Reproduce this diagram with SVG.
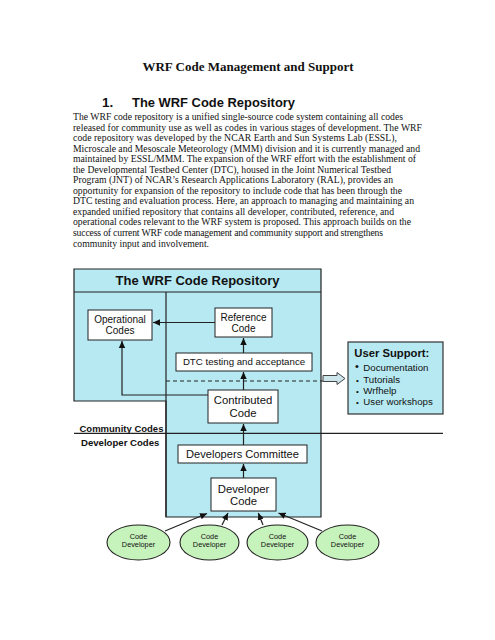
<svg xmlns="http://www.w3.org/2000/svg" width="495" height="640" viewBox="0 0 495 640">
<style>
.ser{font-family:"Liberation Serif","Times New Roman",serif;fill:#111}
.p{font-size:9.7px}
.san{font-family:"Liberation Sans",Arial,sans-serif;fill:#111}
.box{fill:#fff;stroke:#222;stroke-width:1}
.ln{fill:none;stroke:#222;stroke-width:1.2}
.ell{fill:#c6f2bc;stroke:#222;stroke-width:1.1}
</style>
<defs>
<marker id="ah" markerWidth="8" markerHeight="8" refX="7" refY="4" orient="auto" markerUnits="userSpaceOnUse">
<path d="M0,0.8 L7,4 L0,7.2 Z" fill="#111"/>
</marker>
</defs>
<rect width="495" height="640" fill="#fff"/>
<g id="document-text">
<text class="ser" x="248" y="70.5" font-size="13" font-weight="bold" text-anchor="middle">WRF Code Management and Support</text>
<text class="san" x="102" y="107" font-size="13.5" font-weight="bold">1.</text>
<text class="san" x="132" y="107" font-size="13.5" font-weight="bold" textLength="163" lengthAdjust="spacingAndGlyphs">The WRF Code Repository</text>
<g class="ser p">
<text x="73" y="120" textLength="330">The WRF code repository is a unified single-source code system containing all codes</text>
<text x="73" y="130.5" textLength="349">released for community use as well as codes in various stages of development. The WRF</text>
<text x="73" y="141" textLength="324">code repository was developed by the NCAR Earth and Sun Systems Lab (ESSL),</text>
<text x="73" y="151.6" textLength="347">Microscale and Mesoscale Meteorology (MMM) division and it is currently managed and</text>
<text x="73" y="162.2" textLength="343">maintained by ESSL/MMM. The expansion of the WRF effort with the establishment of</text>
<text x="73" y="172.7" textLength="318">the Developmental Testbed Center (DTC), housed in the Joint Numerical Testbed</text>
<text x="73" y="183.2" textLength="320">Program (JNT) of NCAR’s Research Applications Laboratory (RAL), provides an</text>
<text x="73" y="193.8" textLength="329">opportunity for expansion of the repository to include code that has been through the</text>
<text x="73" y="204.3" textLength="341">DTC testing and evaluation process. Here, an approach to managing and maintaining an</text>
<text x="73" y="214.8" textLength="321">expanded unified repository that contains all developer, contributed, reference, and</text>
<text x="73" y="225.4" textLength="338">operational codes relevant to the WRF system is proposed. This approach builds on the</text>
<text x="73" y="236" textLength="310">success of current WRF code management and community support and strengthens</text>
<text x="73" y="246.5" textLength="136">community input and involvement.</text>
</g>
</g>
<g id="repository">
<path d="M74,269 H321 V517 H166 V401 H74 Z" fill="#b7e9f2" stroke="#222" stroke-width="1.2"/>
<line x1="74" y1="292" x2="321" y2="292" class="ln"/>
<line x1="166" y1="292" x2="166" y2="517" class="ln"/>
<text class="san" x="197.5" y="285" font-size="13" font-weight="bold" text-anchor="middle">The WRF Code Repository</text>
</g>
<g id="operational-codes">
<rect class="box" x="88" y="310" width="64" height="30"/>
<text class="san" x="120" y="322.5" font-size="10" text-anchor="middle">Operational</text>
<text class="san" x="120" y="334" font-size="10" text-anchor="middle">Codes</text>
</g>
<g id="reference-code">
<rect class="box" x="215" y="308" width="57" height="29"/>
<text class="san" x="243.5" y="320.5" font-size="10" text-anchor="middle">Reference</text>
<text class="san" x="243.5" y="331.5" font-size="10" text-anchor="middle">Code</text>
</g>
<g id="dtc-testing">
<rect class="box" x="176" y="353" width="136" height="18"/>
<text class="san" x="244" y="364.5" font-size="9.7" text-anchor="middle">DTC testing and acceptance</text>
</g>
<g id="contributed-code">
<rect class="box" x="208" y="390" width="70" height="33"/>
<text class="san" x="243" y="404" font-size="11.3" text-anchor="middle">Contributed</text>
<text class="san" x="243" y="417" font-size="11.3" text-anchor="middle">Code</text>
</g>
<g id="developers-committee">
<rect class="box" x="178" y="445" width="129" height="18"/>
<text class="san" x="242.5" y="457.5" font-size="11.1" text-anchor="middle">Developers Committee</text>
</g>
<g id="developer-code">
<rect class="box" x="211" y="478" width="65" height="33"/>
<text class="san" x="243.5" y="492.5" font-size="11.3" text-anchor="middle">Developer</text>
<text class="san" x="243.5" y="505" font-size="11.3" text-anchor="middle">Code</text>
</g>
<g id="divider">
<line x1="74" y1="433.3" x2="443" y2="433.3" class="ln"/>
<text class="san" x="79.5" y="431.8" font-size="9.5" font-weight="bold">Community Codes</text>
<text class="san" x="81" y="446.2" font-size="9.6" font-weight="bold">Developer Codes</text>
</g>
<g id="user-support">
<rect x="348" y="342" width="95" height="72" fill="#b7e9f2" stroke="#333" stroke-width="1.2"/>
<text class="san" x="354.3" y="357" font-size="11.25" font-weight="bold">User Support:</text>
<text class="san" x="355" y="370" font-size="11">•</text>
<text class="san" x="356" y="382.5" font-size="8">•</text>
<text class="san" x="356" y="394" font-size="8">•</text>
<text class="san" x="356" y="405" font-size="8">•</text>
<text class="san" x="363.3" y="371.2" font-size="9.7">Documentation</text>
<text class="san" x="363.3" y="382.7" font-size="9.7">Tutorials</text>
<text class="san" x="363.3" y="394" font-size="9.7">Wrfhelp</text>
<text class="san" x="363.3" y="405" font-size="9.7">User workshops</text>
</g>
<g id="code-developers">
<g id="dev1"><ellipse class="ell" cx="138.5" cy="542.5" rx="31.5" ry="17.5"/>
<text class="san" x="138.5" y="538.8" font-size="7.3" text-anchor="middle">Code</text>
<text class="san" x="138.5" y="546.8" font-size="7.3" text-anchor="middle">Developer</text></g>
<g id="dev2"><ellipse class="ell" cx="209.5" cy="542.5" rx="29.5" ry="17.5"/>
<text class="san" x="209.5" y="538.8" font-size="7.3" text-anchor="middle">Code</text>
<text class="san" x="209.5" y="546.8" font-size="7.3" text-anchor="middle">Developer</text></g>
<g id="dev3"><ellipse class="ell" cx="277.5" cy="542.5" rx="30.5" ry="17.5"/>
<text class="san" x="277.5" y="538.8" font-size="7.3" text-anchor="middle">Code</text>
<text class="san" x="277.5" y="546.8" font-size="7.3" text-anchor="middle">Developer</text></g>
<g id="dev4"><ellipse class="ell" cx="347.5" cy="542.5" rx="31.5" ry="17.5"/>
<text class="san" x="347.5" y="538.8" font-size="7.3" text-anchor="middle">Code</text>
<text class="san" x="347.5" y="546.8" font-size="7.3" text-anchor="middle">Developer</text></g>
</g>
<g id="connectors">
<line x1="215" y1="322.5" x2="153" y2="322.5" class="ln" marker-end="url(#ah)"/>
<line x1="243.5" y1="353" x2="243.5" y2="338" class="ln" marker-end="url(#ah)"/>
<line x1="243.5" y1="390" x2="243.5" y2="372" class="ln" marker-end="url(#ah)"/>
<polyline points="208,395 122,395 122,341" class="ln" marker-end="url(#ah)"/>
<line x1="243.5" y1="445" x2="243.5" y2="424" class="ln" marker-end="url(#ah)"/>
<line x1="243.5" y1="478" x2="243.5" y2="464" class="ln" marker-end="url(#ah)"/>
<line x1="166" y1="381" x2="323" y2="381" fill="none" stroke="#222" stroke-width="1.2" stroke-dasharray="4,3"/>
<path d="M323,375.5 H337 V372.5 L345,378.5 L337,384.5 V381.5 H323 Z" fill="#cde6ec" stroke="#444" stroke-width="1"/>
<line x1="165" y1="531" x2="207" y2="513.5" class="ln" marker-end="url(#ah)"/>
<line x1="222" y1="525" x2="228" y2="513" class="ln" marker-end="url(#ah)"/>
<line x1="263" y1="525" x2="258.3" y2="513" class="ln" marker-end="url(#ah)"/>
<line x1="322" y1="531" x2="278.5" y2="513" class="ln" marker-end="url(#ah)"/>
</g>
</svg>
